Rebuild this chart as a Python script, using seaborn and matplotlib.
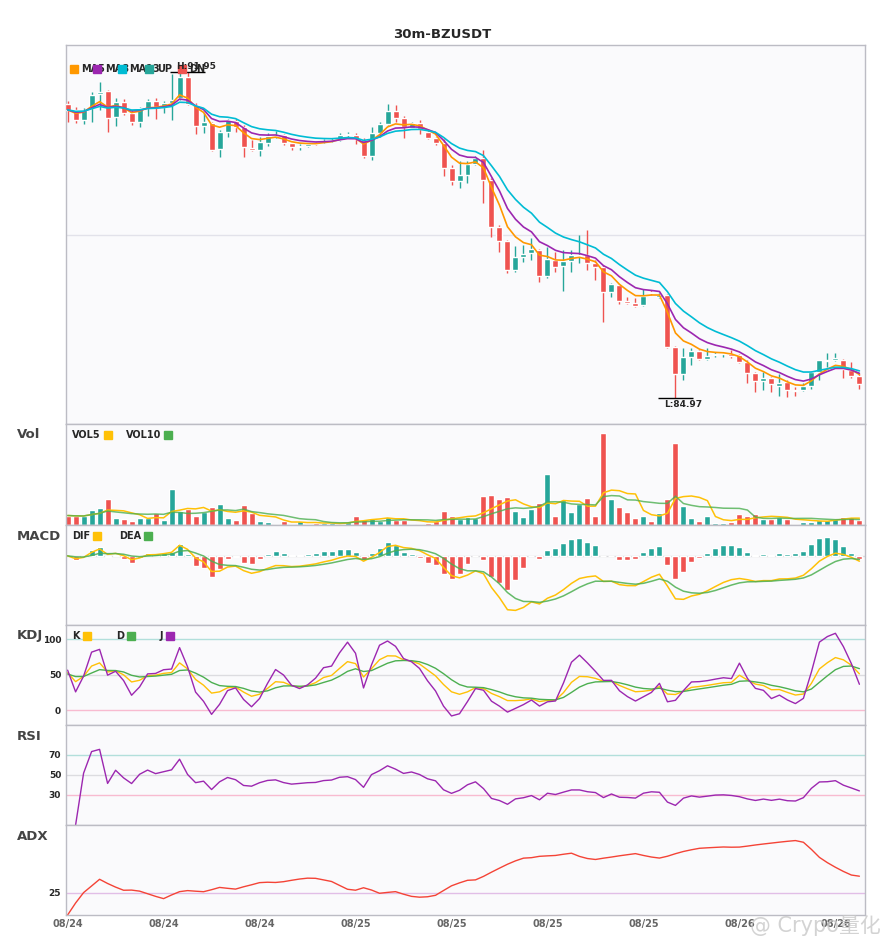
import numpy as np
import pandas as pd
import matplotlib
matplotlib.use("Agg")
import matplotlib.pyplot as plt
import seaborn as sns
from matplotlib.lines import Line2D

symbol = "BZUSDT"
interval = "30m"
start_time = "2025-08-24 06:00"

# OHLCV, one entry per 30m candle
opens = [91.27, 91.14, 90.92, 91.17, 91.47, 91.55, 90.99, 91.31, 91.08, 90.89,
         91.17, 91.33, 91.21, 91.28, 91.39, 91.85, 91.25, 90.80, 90.85, 90.30,
         90.67, 90.90, 90.77, 90.32, 90.28, 90.44, 90.57, 90.60, 90.42, 90.35,
         90.37, 90.43, 90.46, 90.48, 90.49, 90.60, 90.60, 90.49, 90.16, 90.64,
         90.84, 91.11, 90.97, 90.76, 90.85, 90.67, 90.54, 90.44, 89.90, 89.62,
         89.74, 89.97, 90.10, 89.64, 88.64, 88.34, 87.71, 87.99, 88.08, 88.13,
         87.58, 87.92, 87.79, 87.91, 88.01, 88.04, 87.86, 87.78, 87.24, 87.39,
         87.04, 87.01, 86.96, 87.24, 87.14, 87.17, 86.06, 85.48, 85.85, 85.97,
         85.81, 85.88, 85.91, 85.91, 85.88, 85.74, 85.51, 85.34, 85.39, 85.23,
         85.31, 85.14, 85.14, 85.22, 85.53, 85.77, 85.79, 85.79, 85.56, 85.44]
highs = [91.32, 91.20, 91.17, 91.52, 91.74, 91.56, 91.39, 91.37, 91.14, 91.20,
         91.37, 91.40, 91.32, 91.90, 91.92, 91.95, 91.28, 91.07, 90.87, 90.70,
         90.94, 90.94, 90.82, 90.50, 90.55, 90.65, 90.69, 90.62, 90.44, 90.41,
         90.42, 90.46, 90.52, 90.53, 90.64, 90.67, 90.65, 90.53, 90.78, 90.87,
         91.26, 91.24, 91.00, 90.87, 90.92, 90.72, 90.56, 90.51, 89.96, 90.04,
         90.04, 90.15, 90.28, 89.69, 88.67, 88.35, 88.22, 88.24, 88.39, 88.15,
         88.21, 88.10, 88.14, 88.14, 88.46, 88.56, 87.92, 87.81, 87.44, 87.41,
         87.14, 87.12, 87.31, 87.29, 87.22, 87.19, 86.08, 86.03, 86.05, 85.99,
         86.05, 85.96, 85.96, 85.99, 85.92, 85.79, 85.53, 85.53, 85.42, 85.48,
         85.35, 85.21, 85.29, 85.55, 85.79, 85.94, 85.94, 85.81, 85.74, 85.49]
lows = [90.89, 90.85, 90.84, 90.87, 91.14, 90.67, 90.80, 91.03, 90.82, 90.78,
        91.00, 90.95, 91.08, 90.92, 91.35, 91.25, 90.62, 90.65, 90.25, 90.14,
        90.55, 90.67, 90.14, 90.25, 90.16, 90.37, 90.53, 90.39, 90.28, 90.27,
        90.34, 90.38, 90.42, 90.45, 90.48, 90.55, 90.41, 90.11, 90.06, 90.56,
        90.81, 90.89, 90.54, 90.72, 90.62, 90.51, 90.39, 89.72, 89.53, 89.47,
        89.58, 89.96, 89.14, 88.42, 88.10, 87.64, 87.67, 87.88, 87.93, 87.46,
        87.53, 87.67, 87.26, 87.67, 87.86, 87.71, 87.49, 86.60, 87.14, 86.99,
        86.98, 86.92, 86.94, 87.17, 87.10, 86.03, 84.97, 85.36, 85.67, 85.79,
        85.79, 85.85, 85.84, 85.83, 85.72, 85.29, 85.10, 85.14, 85.10, 85.01,
        84.98, 85.01, 85.12, 85.17, 85.36, 85.64, 85.76, 85.39, 85.39, 85.17]
closes = [91.14, 90.92, 91.14, 91.46, 91.52, 90.97, 91.30, 91.08, 90.88, 91.17,
          91.33, 91.21, 91.28, 91.35, 91.85, 91.26, 90.80, 90.87, 90.28, 90.67,
          90.92, 90.77, 90.34, 90.28, 90.46, 90.58, 90.61, 90.44, 90.34, 90.37,
          90.40, 90.41, 90.48, 90.50, 90.60, 90.62, 90.51, 90.16, 90.65, 90.84,
          91.11, 90.97, 90.78, 90.85, 90.74, 90.54, 90.44, 89.90, 89.62, 89.74,
          89.97, 90.10, 89.64, 88.64, 88.34, 87.71, 87.99, 88.05, 88.16, 87.58,
          87.94, 87.78, 87.91, 88.03, 88.03, 87.86, 87.78, 87.24, 87.41, 87.04,
          87.01, 86.94, 87.15, 87.21, 87.17, 86.06, 85.48, 85.85, 85.97, 85.81,
          85.86, 85.91, 85.92, 85.86, 85.74, 85.51, 85.34, 85.39, 85.26, 85.30,
          85.15, 85.12, 85.22, 85.53, 85.78, 85.79, 85.83, 85.60, 85.44, 85.26]
volumes = [2800, 2600, 2600, 4300, 4900, 7600, 2200, 1900, 1300, 2200,
           2100, 3400, 1600, 10600, 4200, 4600, 2800, 3700, 5200, 6100,
           2200, 1600, 5800, 3400, 1300, 1000, 400, 1300, 400, 1300,
           200, 500, 500, 500, 400, 1000, 2800, 1600, 2200, 1300,
           2500, 1600, 1600, 400, 400, 700, 1300, 4000, 2800, 1900,
           2500, 2200, 8600, 8800, 7600, 8200, 4000, 2500, 4600, 6400,
           15100, 2800, 7300, 3700, 6100, 7900, 2800, 27100, 7600, 5200,
           3700, 2200, 2800, 1300, 3400, 7600, 24100, 5500, 2200, 1300,
           2800, 700, 700, 1000, 3100, 2800, 3100, 1900, 1900, 2500,
           1900, 400, 1000, 1000, 1600, 1600, 1900, 2500, 2500, 1600]

ma_spans = [5, 8, 13]
vol_periods = [5, 10]
macd_fast, macd_slow, macd_signal = 5, 13, 5

UP = "#26a69a"
DN = "#ef5350"
MA_COLORS = ["#ff9800", "#9c27b0", "#00bcd4"]
YEL = "#ffc107"
GRN = "#4caf50"
PUR = "#9c27b0"
BG = "#fafafc"
SPINE = "#bcbcc4"

df = pd.DataFrame({"open": opens, "high": highs, "low": lows, "close": closes, "volume": volumes})
df["time"] = pd.date_range(start_time, periods=len(df), freq="30min")
x = np.arange(len(df))
c = df["close"]

# indicators
for p in ma_spans:
    df[f"ma{p}"] = c.ewm(span=p, adjust=False).mean()
for p in vol_periods:
    df[f"vol{p}"] = df["volume"].rolling(p, min_periods=1).mean()

df["dif"] = c.ewm(span=macd_fast, adjust=False).mean() - c.ewm(span=macd_slow, adjust=False).mean()
df["dea"] = df["dif"].ewm(span=macd_signal, adjust=False).mean()
df["hist"] = 2 * (df["dif"] - df["dea"])

low9 = df["low"].rolling(9, min_periods=1).min()
high9 = df["high"].rolling(9, min_periods=1).max()
rsv = ((c - low9) / (high9 - low9) * 100).fillna(50)
k_vals, d_vals = [], []
k_prev, d_prev = 50.0, 50.0
for r in rsv:
    k_prev = 2 / 3 * k_prev + r / 3
    d_prev = 2 / 3 * d_prev + k_prev / 3
    k_vals.append(k_prev)
    d_vals.append(d_prev)
df["k"] = k_vals
df["d"] = d_vals
df["j"] = 3 * df["k"] - 2 * df["d"]

delta = c.diff().fillna(0)
gain = delta.clip(lower=0).ewm(alpha=1 / 14, adjust=True).mean()
loss = (-delta.clip(upper=0)).ewm(alpha=1 / 14, adjust=True).mean()
df["rsi"] = 100 * gain / (gain + loss)

up_move = df["high"].diff()
down_move = -df["low"].diff()
plus_dm = pd.Series(np.where((up_move > down_move) & (up_move > 0), up_move, 0.0))
minus_dm = pd.Series(np.where((down_move > up_move) & (down_move > 0), down_move, 0.0))
prev_c = c.shift(1).fillna(c.iloc[0])
tr = pd.concat([df["high"] - df["low"], (df["high"] - prev_c).abs(), (df["low"] - prev_c).abs()], axis=1).max(axis=1)
atr = tr.ewm(span=14, adjust=False).mean()
plus_di = 100 * plus_dm.ewm(span=14, adjust=False).mean() / atr
minus_di = 100 * minus_dm.ewm(span=14, adjust=False).mean() / atr
dx = (100 * (plus_di - minus_di).abs() / (plus_di + minus_di)).fillna(0)
df["adx"] = dx.ewm(span=14, adjust=False).mean()

# figure layout in pixels
sns.set_style("white")
plt.rcParams["font.family"] = ["DejaVu Sans", "Noto Sans CJK SC"]
W, H = 885, 950
fig = plt.figure(figsize=(W / 100, H / 100), dpi=100)


def px_axes(top, bottom, sharex=None):
    ax = fig.add_axes([66 / W, 1 - bottom / H, 799 / W, (bottom - top) / H], sharex=sharex)
    ax.set_facecolor(BG)
    for s in ax.spines.values():
        s.set_color(SPINE)
        s.set_linewidth(1)
    ax.tick_params(length=0, labelsize=6.5)
    return ax


ax_k = px_axes(45, 424)
ax_v = px_axes(424, 525, ax_k)
ax_m = px_axes(525, 625, ax_k)
ax_kdj = px_axes(625, 725, ax_k)
ax_r = px_axes(725, 825, ax_k)
ax_a = px_axes(825, 915, ax_k)
panels = [("Vol", 424), ("MACD", 525), ("KDJ", 625), ("RSI", 725), ("ADX", 825)]
for name, top in panels:
    fig.text(17 / W, 1 - (top + 11) / H, name, ha="left", va="center", fontsize=9.5,
             fontweight="bold", color="#444444")

fig.text(0.5, 1 - 34 / H, f"{interval}-{symbol}", ha="center", va="center",
         fontsize=9.5, fontweight="bold")


def panel_legend(ax, labels, colors, markerfirst=True, spacing=1.5, top=1.0):
    handles = [Line2D([], [], marker="s", ls="", color=col, markersize=5.5) for col in colors]
    ax.legend(handles, labels, loc="upper left", bbox_to_anchor=(0.0, top), ncol=len(labels),
              frameon=False, markerfirst=markerfirst, columnspacing=spacing,
              handletextpad=0.3, handlelength=0.8, borderaxespad=0.25,
              prop={"weight": "bold", "size": 7})


# candles
is_up = df["close"] >= df["open"]
colors = np.where(is_up, UP, DN)
body_low = np.minimum(df["open"], df["close"])
body_h = np.maximum((df["close"] - df["open"]).abs(), 0.012)
ax_k.vlines(x, df["low"], df["high"], colors=colors, lw=1, zorder=2)
ax_k.bar(x, body_h, bottom=body_low, width=0.75, color=colors, zorder=3)
for p, col in zip(ma_spans, MA_COLORS):
    sns.lineplot(x=x, y=df[f"ma{p}"].values, ax=ax_k, color=col, lw=1.2, zorder=4)
hi_i, lo_i = int(df["high"].idxmax()), int(df["low"].idxmin())
hi, lo = df["high"].max(), df["low"].min()
ax_k.hlines(hi, hi_i - 2.2, hi_i + 2.2, color="black", lw=1, zorder=5)
ax_k.text(hi_i - 1.4, hi + 0.03, f"H:{hi:.2f}", fontsize=6.5, fontweight="bold", va="bottom", zorder=12)
ax_k.hlines(lo, lo_i - 2.2, lo_i + 2.2, color="black", lw=1, zorder=5)
ax_k.text(lo_i - 1.4, lo - 0.05, f"L:{lo:.2f}", fontsize=6.5, fontweight="bold", va="top", zorder=6)
rng = hi - lo
ax_k.set_ylim(lo - 0.08 * rng, hi + 0.083 * rng)
ax_k.set_yticks([(hi + lo) / 2])
ax_k.grid(axis="y", color="#e2e2ea", lw=1)
ax_k.set_yticklabels([])

# main legend: squares packed tightly so each label runs under the next square
main_labels = [f"MA{p}" for p in ma_spans] + ["UP", "DN"]
main_colors = MA_COLORS + [UP, DN]
legend_x = [0.0094, 0.0394, 0.0695, 0.1045, 0.1446]
legend_y = 1 - 24 / 379
for lx, lab, col in zip(legend_x, main_labels, main_colors):
    ax_k.plot(lx, legend_y, marker="s", ms=5.5, color=col, ls="", transform=ax_k.transAxes,
              zorder=11, clip_on=False)
    ax_k.text(lx + 0.0095, legend_y, lab, transform=ax_k.transAxes, fontsize=7,
              fontweight="bold", va="center", ha="left", zorder=10)

# volume
ax_v.bar(x, df["volume"], width=0.75, color=colors)
sns.lineplot(x=x, y=df["vol5"].values, ax=ax_v, color=YEL, lw=1.1)
sns.lineplot(x=x, y=df["vol10"].values, ax=ax_v, color=GRN, lw=1.1, alpha=0.8)
ax_v.set_ylim(0, df["volume"].max() * 1.1)
ax_v.set_yticks([])
panel_legend(ax_v, ["VOL5", "VOL10"], [YEL, GRN], markerfirst=False, spacing=1.5)

# macd
ax_m.axhline(0, color="#d8d8dc", lw=1, zorder=1)
ax_m.bar(x, df["hist"], width=0.75, color=np.where(df["hist"] >= 0, UP, DN), zorder=2)
sns.lineplot(x=x, y=df["dif"].values, ax=ax_m, color=YEL, lw=1.1, zorder=3)
sns.lineplot(x=x, y=df["dea"].values, ax=ax_m, color=GRN, lw=1.1, alpha=0.85, zorder=3)
m_lo = min(df["dif"].min(), df["dea"].min(), df["hist"].min())
m_hi = max(df["dif"].max(), df["dea"].max(), df["hist"].max())
m_span = m_hi - m_lo
ax_m.set_ylim(m_lo - 0.2 * m_span, m_hi + 0.17 * m_span)
ax_m.set_yticks([])
panel_legend(ax_m, ["DIF", "DEA"], [YEL, GRN], markerfirst=False, spacing=1.8)

# kdj
for lvl, col in [(100, "#b2dfdb"), (50, "#dcdce0"), (0, "#f8bbd0")]:
    ax_kdj.axhline(lvl, color=col, lw=1, zorder=1)
sns.lineplot(x=x, y=df["k"].values, ax=ax_kdj, color=YEL, lw=1.0)
sns.lineplot(x=x, y=df["d"].values, ax=ax_kdj, color=GRN, lw=1.0)
sns.lineplot(x=x, y=df["j"].values, ax=ax_kdj, color=PUR, lw=1.0)
ax_kdj.set_ylim(-21, 120)
ax_kdj.set_yticks([0, 50, 100])
panel_legend(ax_kdj, ["K", "D", "J"], [YEL, GRN, PUR], markerfirst=False, spacing=2.6)

# rsi
for lvl, col in [(70, "#b2dfdb"), (50, "#dcdce0"), (30, "#f8bbd0")]:
    ax_r.axhline(lvl, color=col, lw=1, zorder=1)
sns.lineplot(x=x, y=df["rsi"].values, ax=ax_r, color=PUR, lw=1.0)
ax_r.set_ylim(0, 100)
ax_r.set_yticks([30, 50, 70])

# adx
ax_a.axhline(25, color="#e1bee7", lw=1, zorder=1)
sns.lineplot(x=x, y=df["adx"].values, ax=ax_a, color="#f44336", lw=1.0)
ax_a.set_ylim(0, 100)
ax_a.set_yticks([25])

for ax in [ax_k, ax_v, ax_m, ax_kdj, ax_r, ax_a]:
    ax.set_ylabel("")
    for lab in ax.get_yticklabels():
        lab.set_fontweight("bold")
    if ax is not ax_a:
        ax.tick_params(labelbottom=False)

tick_idx = list(range(0, len(df), 12))
ax_a.set_xticks(tick_idx)
ax_a.set_xticklabels([df["time"].iloc[i].strftime("%m/%d") for i in tick_idx],
                     fontsize=7, fontweight="bold", color="#666666")
ax_a.tick_params(axis="x", pad=3)
ax_k.set_xlim(-0.2, len(df) - 0.3)

fig.text(0.995, 1 - 926 / H, "@ Crypo量化", ha="right", va="center", fontsize=15,
         color="#c8c8c8", alpha=0.8)

fig.savefig("out.png", dpi=100, facecolor="white")
